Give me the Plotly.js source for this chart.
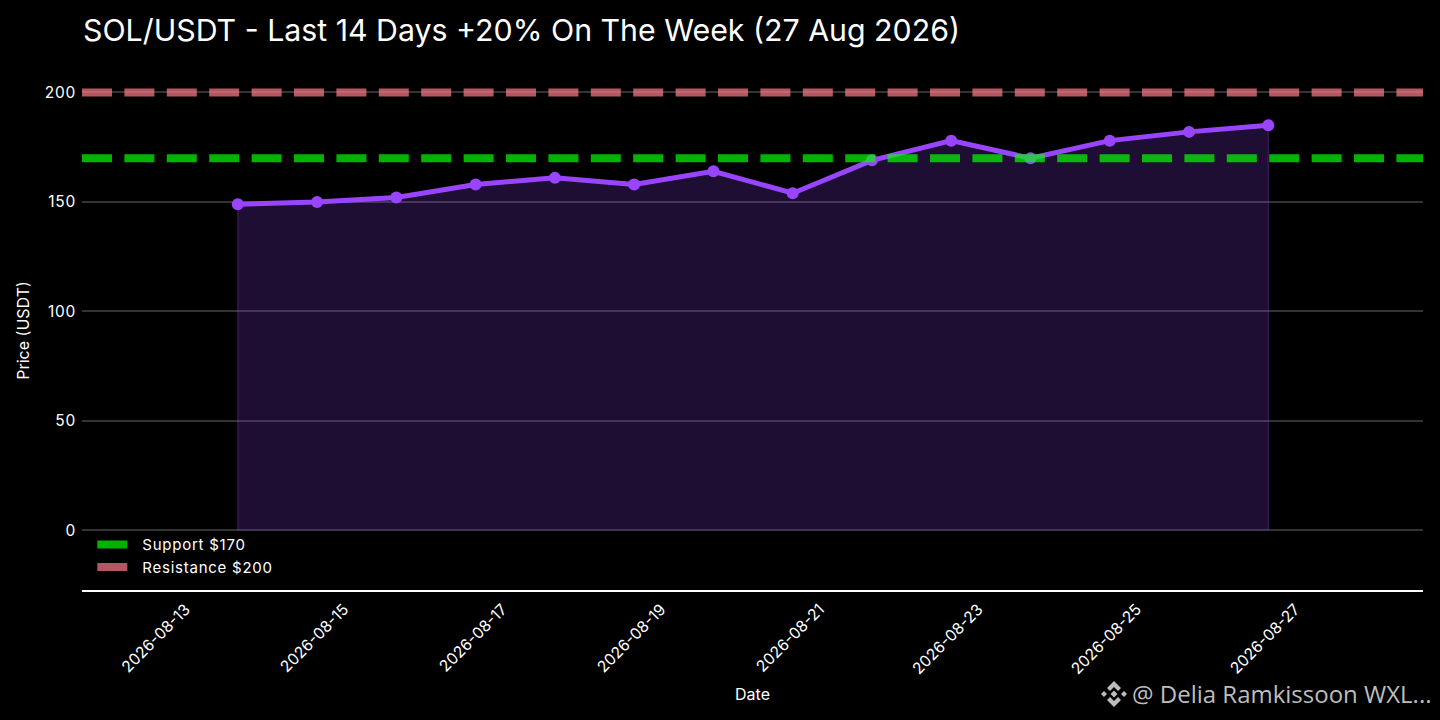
<!DOCTYPE html>
<html><head><meta charset="utf-8">
<script src="https://cdn.plot.ly/plotly-3.0.1.min.js"></script>
<style>html,body{margin:0;padding:0;background:#000}#c{width:1440px;height:720px}
.legendtext{letter-spacing:0.75px}
.ytick text{letter-spacing:0.7px}
</style>
</head><body><div id="c"></div>
<script>
const dates=["2026-08-14","2026-08-15","2026-08-16","2026-08-17","2026-08-18","2026-08-19","2026-08-20","2026-08-21","2026-08-22","2026-08-23","2026-08-24","2026-08-25","2026-08-26","2026-08-27"];
const prices=[149,150,152,158,161,158,164,154,169,178,170,178,182,185];
const xSpan=["2026-08-12 00:50","2026-08-28 22:50"];
const supportLevel=170, resistanceLevel=200;
const supportName="Support $170", resistanceName="Resistance $200";
const titleText="SOL/USDT - Last 14 Days +20% On The Week (27 Aug 2026)";
const watermark="@ Delia Ramkissoon WXL...";
const font="Inter, 'Noto Sans', sans-serif";
const logo="data:image/svg+xml;utf8,"+encodeURIComponent('<svg xmlns="http://www.w3.org/2000/svg" viewBox="0 0 28 28"><g fill="#bdbdbd"><path d="M14 1l7 7-3 3-4-4-4 4-3-3z"/><path d="M14 27l7-7-3-3-4 4-4-4-3 3z"/><path d="M14 10.5l3.5 3.5-3.5 3.5-3.5-3.5z"/><path d="M4 11l3 3-3 3-3-3z"/><path d="M24 11l3 3-3 3-3-3z"/></g></svg>');
const traces=[
 {type:"scatter",mode:"lines",x:[dates[0],...dates,dates[dates.length-1]],y:[0,...prices,0],fill:"toself",fillcolor:"rgba(153,69,255,0.2)",line:{color:"rgba(153,69,255,0.25)",width:1.5},showlegend:false,hoverinfo:"skip"},
 {type:"scatter",mode:"lines+markers",x:dates,y:prices,name:"SOL/USDT",line:{color:"#9945FF",width:5},marker:{color:"#9945FF",size:12},showlegend:false},
 {type:"scatter",mode:"lines",x:xSpan,y:[supportLevel,supportLevel],name:supportName,opacity:0.7,line:{color:"#00ff00",width:8,dash:"30px,12.4px"}},
 {type:"scatter",mode:"lines",x:xSpan,y:[resistanceLevel,resistanceLevel],name:resistanceName,opacity:0.7,line:{color:"#ff7d8b",width:8,dash:"30px,12.4px"}}
];
const mL=82,mR=17,mT=71,mB=130;
const pw=1440-mL-mR,ph=720-mT-mB;
const layout={
 width:1440,height:720,paper_bgcolor:"#000",plot_bgcolor:"#000",
 font:{family:font,color:"#fff",size:16},
 margin:{l:mL,r:mR,t:mT,b:mB,pad:0},
 title:{text:titleText,x:83/1440,xanchor:"left",xref:"container",y:1-30/720,yref:"container",yanchor:"middle",font:{family:font,size:30.3,color:"#fff"}},
 xaxis:{type:"date",range:xSpan,tick0:"2026-08-13",dtick:2*86400000,tickformat:"%Y-%m-%d",tickangle:-45,ticklabelshift:27,ticklabelstandoff:2,showgrid:false,zeroline:false,showline:true,linecolor:"#fff",linewidth:2,ticks:"",tickfont:{size:15.7,color:"#fff"},title:{text:"Date",font:{size:16,color:"#fff"},standoff:12}},
 yaxis:{range:[-27.2,209.8],tick0:0,dtick:50,showgrid:true,gridcolor:"rgba(255,255,255,0.2)",gridwidth:1.5,zeroline:false,showline:false,ticks:"outside",ticklen:2,tickcolor:"rgba(0,0,0,0)",tickfont:{size:15.5,color:"#fff"},title:{text:"Price (USDT)",font:{size:16,color:"#fff"},standoff:11}},
 legend:{x:0.0077,xanchor:"left",y:0.119,yanchor:"top",bgcolor:"rgba(0,0,0,0)",font:{size:15,color:"#fff"},itemwidth:40},
 annotations:[{text:watermark,xref:"paper",yref:"paper",x:(1434-mL)/pw,y:(720-mB-693)/ph,xanchor:"right",yanchor:"middle",showarrow:false,font:{family:"'Open Sans','Noto Sans',sans-serif",size:24,color:"#bdbdbd"}}],
 images:[{source:logo,xref:"paper",yref:"paper",x:(1100-mL)/pw,y:(720-mB-680)/ph,sizex:28/pw,sizey:28/ph,xanchor:"left",yanchor:"top",sizing:"stretch",layer:"above"}]
};
Plotly.newPlot("c",traces,layout,{displayModeBar:false});
</script></body></html>
